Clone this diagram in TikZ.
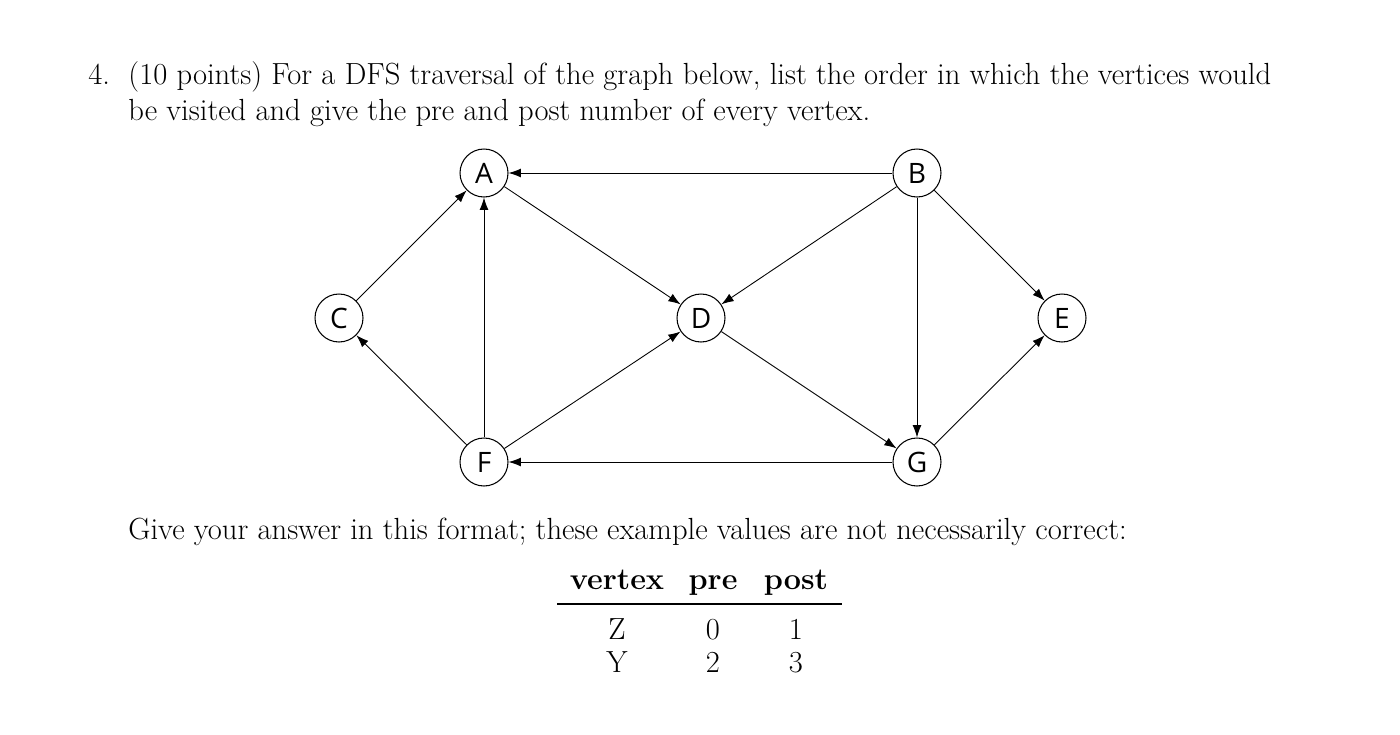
\documentclass[tikz,border=0pt]{standalone}
\usepackage{fontspec}
\newfontfamily\nodefont{Open Sans}
\usetikzlibrary{arrows.meta}
\begin{document}
\begin{tikzpicture}[x=0.02cm,y=-0.02cm,
  v/.style={circle,draw,line width=0.6pt,minimum size=0.96cm,inner sep=0pt,font=\nodefont\fontsize{16}{18}\selectfont},
  e/.style={-{Latex[length=7pt,width=5pt]},line width=0.5pt},
  t/.style={anchor=base west,inner sep=0pt,font=\fontsize{17.4}{20}\selectfont},
  c/.style={anchor=base,inner sep=0pt,font=\fontsize{17.4}{20}\selectfont}]
\useasboundingbox (0,0) rectangle (1400,734);
\node[v] (A) at (484,173) {A};
\node[v] (B) at (917,173) {B};
\node[v] (C) at (339,318) {C};
\node[v] (D) at (701,318) {D};
\node[v] (E) at (1062,318) {E};
\node[v] (F) at (484,462) {F};
\node[v] (G) at (917,462) {G};
\draw[e] (B) -- (A);
\draw[e] (A) -- (D);
\draw[e] (B) -- (D);
\draw[e] (B) -- (E);
\draw[e] (B) -- (G);
\draw[e] (C) -- (A);
\draw[e] (F) -- (A);
\draw[e] (F) -- (C);
\draw[e] (F) -- (D);
\draw[e] (D) -- (G);
\draw[e] (G) -- (F);
\draw[e] (G) -- (E);
\node[t] (l1) at (88,84) {4.\ \ (10 points) For a DFS traversal of the graph below, list the order in which the vertices would};
\node[t] (l2) at (128,120) {be visited and give the pre and post number of every vertex.};
\node[t] (l3) at (128,539) {Give your answer in this format; these example values are not necessarily correct:};
\node[c] (h1) at (617,589) {\bfseries vertex};
\node[c] (h2) at (713,589) {\bfseries pre};
\node[c] (h3) at (796,589) {\bfseries post};
\coordinate (r1) at (557,604);
\coordinate (r2) at (842,604);
\draw[line width=0.6pt] (r1) -- (r2);
\node[c] (z1) at (617,639) {Z};
\node[c] (z2) at (713,639) {0};
\node[c] (z3) at (796,639) {1};
\node[c] (y1) at (617,672) {Y};
\node[c] (y2) at (713,672) {2};
\node[c] (y3) at (796,672) {3};
\end{tikzpicture}
\end{document}
